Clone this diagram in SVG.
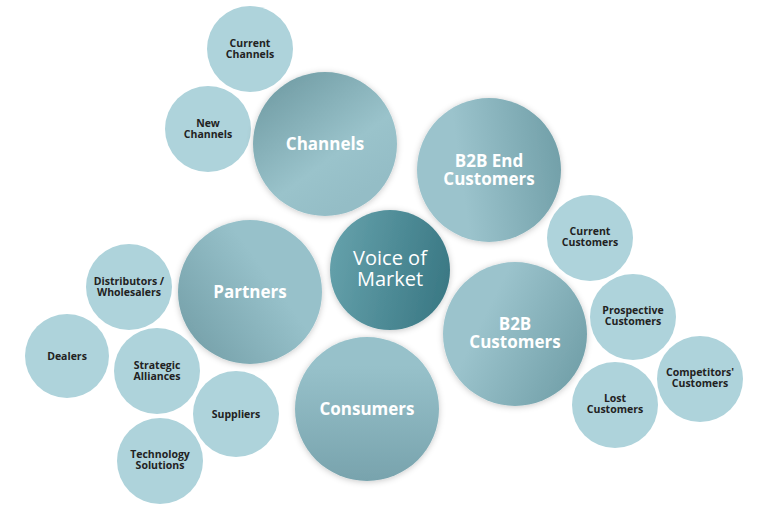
<svg xmlns="http://www.w3.org/2000/svg" width="768" height="520" viewBox="0 0 768 520">
<defs>
  <linearGradient id="gCh" x1="0.2" y1="0.1" x2="0.75" y2="0.85"><stop offset="0" stop-color="#76a1a9"/><stop offset="0.65" stop-color="#9ac3cb"/><stop offset="1" stop-color="#94bdc6"/></linearGradient>
  <linearGradient id="gEnd" x1="0.3" y1="0.5" x2="1" y2="0.4"><stop offset="0" stop-color="#9bc3cc"/><stop offset="1" stop-color="#72a0a9"/></linearGradient>
  <linearGradient id="gPar" x1="0.05" y1="0.75" x2="0.6" y2="0.35"><stop offset="0" stop-color="#78a3ac"/><stop offset="1" stop-color="#97c1ca"/></linearGradient>
  <linearGradient id="gCon" x1="0.5" y1="0.2" x2="0.5" y2="1"><stop offset="0" stop-color="#97c1ca"/><stop offset="1" stop-color="#78a3ad"/></linearGradient>
  <linearGradient id="gB2B" x1="0.3" y1="0.35" x2="1" y2="0.7"><stop offset="0" stop-color="#9bc3cc"/><stop offset="1" stop-color="#72a0a9"/></linearGradient>
  <linearGradient id="gVoice" x1="0" y1="0.4" x2="1" y2="0.6"><stop offset="0" stop-color="#64a0aa"/><stop offset="1" stop-color="#3a7884"/></linearGradient>
  <filter id="sh" x="-20%" y="-20%" width="140%" height="140%">
    <feDropShadow dx="0" dy="1" stdDeviation="3" flood-color="#000" flood-opacity="0.22"/>
  </filter>
</defs>
<style>
  .small{fill:#aed3db}
  .st{font-family:"Open Sans","Liberation Sans",sans-serif;font-weight:700;font-size:10.5px;fill:#222;text-anchor:middle}
  .bt{font-family:"Open Sans","Liberation Sans",sans-serif;font-weight:700;font-size:17px;fill:#fff;text-anchor:middle}
  .vt{font-family:"Open Sans","Liberation Sans",sans-serif;font-weight:400;font-size:20px;fill:#fff;text-anchor:middle}
</style>
<rect width="768" height="520" fill="#fff"/>
<g id="connectors"></g>

<g id="current-channels"><circle class="small" cx="250" cy="49" r="43"/><text class="st" x="250" y="46.5">Current</text><text class="st" x="250" y="57.5">Channels</text></g>
<g id="new-channels"><circle class="small" cx="208" cy="129" r="43"/><text class="st" x="208" y="126.5">New</text><text class="st" x="208" y="137.5">Channels</text></g>
<g id="channels"><circle cx="325" cy="144" r="72" fill="url(#gCh)" filter="url(#sh)"/><text class="bt" x="325" y="150">Channels</text></g>
<g id="b2b-end-customers"><circle cx="489" cy="170" r="72" fill="url(#gEnd)" filter="url(#sh)"/><text class="bt" x="489" y="166.5">B2B End</text><text class="bt" x="489" y="185">Customers</text></g>
<g id="voice-of-market"><circle cx="390" cy="270" r="60" fill="url(#gVoice)" filter="url(#sh)"/><text class="vt" x="390" y="265">Voice of</text><text class="vt" x="390" y="286">Market</text></g>
<g id="partners"><circle cx="250" cy="292" r="72" fill="url(#gPar)" filter="url(#sh)"/><text class="bt" x="250" y="298">Partners</text></g>
<g id="consumers"><circle cx="367" cy="409" r="72" fill="url(#gCon)" filter="url(#sh)"/><text class="bt" x="367" y="415">Consumers</text></g>
<g id="b2b-customers"><circle cx="515" cy="334" r="72" fill="url(#gB2B)" filter="url(#sh)"/><text class="bt" x="515" y="329.5">B2B</text><text class="bt" x="515" y="348">Customers</text></g>

<g id="distributors"><circle class="small" cx="129" cy="287" r="43"/><text class="st" x="129" y="284.5">Distributors /</text><text class="st" x="129" y="295.5">Wholesalers</text></g>
<g id="dealers"><circle class="small" cx="67" cy="356" r="42"/><text class="st" x="67" y="359.5">Dealers</text></g>
<g id="strategic-alliances"><circle class="small" cx="157" cy="371" r="43"/><text class="st" x="157" y="368.5">Strategic</text><text class="st" x="157" y="379.5">Alliances</text></g>
<g id="suppliers"><circle class="small" cx="236" cy="414" r="43"/><text class="st" x="236" y="417.5">Suppliers</text></g>
<g id="technology-solutions"><circle class="small" cx="160" cy="461" r="43"/><text class="st" x="160" y="457.5">Technology</text><text class="st" x="160" y="468.5">Solutions</text></g>

<g id="current-customers"><circle class="small" cx="590" cy="238" r="43"/><text class="st" x="590" y="234.5">Current</text><text class="st" x="590" y="245.5">Customers</text></g>
<g id="prospective-customers"><circle class="small" cx="633" cy="317" r="43"/><text class="st" x="633" y="313.5">Prospective</text><text class="st" x="633" y="324.5">Customers</text></g>
<g id="competitors-customers"><circle class="small" cx="700" cy="379" r="43"/><text class="st" x="700" y="375.5">Competitors'</text><text class="st" x="700" y="386.5">Customers</text></g>
<g id="lost-customers"><circle class="small" cx="615" cy="405" r="43"/><text class="st" x="615" y="401.5">Lost</text><text class="st" x="615" y="412.5">Customers</text></g>
</svg>
